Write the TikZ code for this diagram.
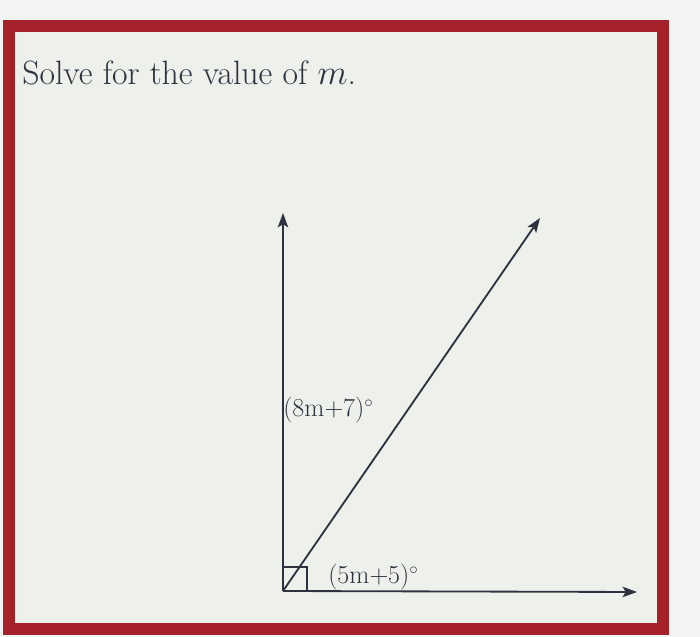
\documentclass[tikz,border=0pt]{standalone}
\usepackage{tikz}
\usetikzlibrary{arrows.meta}

\definecolor{frame}{RGB}{166,34,42}
\definecolor{paper}{RGB}{237,240,235}
\definecolor{screen}{RGB}{242,244,242}
\definecolor{ink}{RGB}{45,50,62}

\begin{document}
\begin{tikzpicture}[x=0.025cm,y=-0.025cm]
      \tikzstyle{ray}=[->,>={Stealth[length=0.36cm,width=0.26cm,inset=0.08cm]},
        draw=ink,line width=1.3pt]
      \tikzstyle{lbl}=[inner sep=0pt,text=ink,font=\fontsize{18.5}{20}\selectfont]

      \useasboundingbox[fill=screen] (0,0) rectangle (700,637);
      \draw[frame,fill=paper,line width=0.3cm] (9,26) rectangle (663,629);

      \node[anchor=base west,inner sep=0pt,text=ink,
        font=\fontsize{24}{28}\selectfont] (T) at (22,85)
        {Solve for the value of $m$.};

      \coordinate (O) at (283,591);
      \coordinate (U) at (283,213);
      \coordinate (D) at (540,218);
      \coordinate (R) at (637,592);

      \draw[ray] (O) -- (U);
      \draw[ray] (O) -- (D);
      \draw[ray] (O) -- (R);
      \draw[ink,line width=1.1pt] (O) ++(0,-24) -| ++(24,24);

      \node[lbl,anchor=west] (A1) at (283,410) {(8m+7)$^\circ$};
      \node[lbl,anchor=west] (A2) at (328,577) {(5m+5)$^\circ$};
    \end{tikzpicture}
\end{document}
